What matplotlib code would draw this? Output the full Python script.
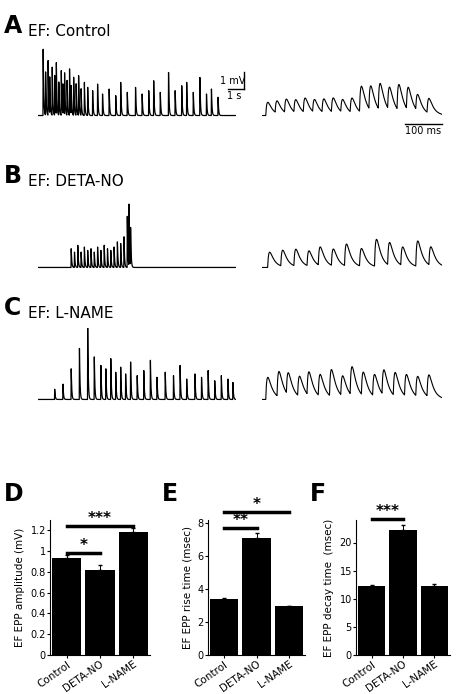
import numpy as np
import matplotlib.pyplot as plt

# ---- data ----
groups = ["Control", "DETA-NO", "L-NAME"]
amp_mean = [0.93, 0.82, 1.18]
amp_err = [0.03, 0.05, 0.04]
rise_mean = [3.4, 7.1, 2.95]
rise_err = [0.08, 0.3, 0.05]
decay_mean = [12.2, 22.3, 12.3]
decay_err = [0.3, 0.8, 0.25]

# spike trains: (time s, amplitude mV)
a_left_t = [0.3,0.45,0.6,0.7,0.85,1.0,1.1,1.25,1.4,1.5,1.6,1.75,1.9,2.0,2.15,2.3,2.45,2.6,2.8,3.0,3.3,3.6,3.9,4.3,4.7,5.0,5.4,5.9,6.3,6.7,7.0,7.4,7.9,8.3,8.7,9.0,9.4,9.8,10.2,10.5,10.9]
a_left_a = [4.0,2.6,3.3,2.2,2.9,2.4,3.1,2.0,2.7,1.8,2.5,2.1,2.8,1.7,2.3,1.9,2.4,1.6,2.0,1.7,1.5,1.9,1.3,1.6,1.2,2.0,1.4,1.7,1.3,1.5,2.1,1.4,2.6,1.5,1.8,2.0,1.4,2.3,1.3,1.6,1.1]
b_left_t = [2.0,2.2,2.4,2.6,2.8,3.0,3.2,3.4,3.6,3.8,4.0,4.2,4.4,4.6,4.8,5.0,5.2,5.4,5.5,5.6]
b_left_a = [1.1,0.9,1.3,0.9,1.2,1.0,1.1,0.9,1.2,1.0,1.3,1.1,1.0,1.2,1.5,1.4,1.8,3.0,3.6,2.2]
c_left_t = [1.0,1.5,2.0,2.5,3.0,3.4,3.8,4.1,4.4,4.7,5.0,5.3,5.6,6.0,6.4,6.8,7.2,7.7,8.2,8.6,9.0,9.5,9.9,10.3,10.7,11.1,11.5,11.8]
c_left_a = [0.6,0.9,1.8,3.0,4.3,2.5,2.0,1.8,2.4,1.6,1.9,1.5,2.2,1.4,1.7,2.3,1.3,1.6,1.4,2.0,1.2,1.5,1.3,1.7,1.1,1.4,1.2,1.0]
a_right_t = [10,35,60,85,110,135,160,185,210,235,260,285,310,335,360,385,410,440]
a_right_a = [0.8,0.75,0.85,0.8,0.9,0.8,0.85,0.9,0.8,0.9,1.6,1.5,1.65,1.4,1.6,1.4,1.0,0.9]
b_right_t = [15,50,85,120,150,185,220,260,300,335,370,410,445]
b_right_a = [0.9,0.95,1.0,0.9,1.1,1.0,1.3,1.05,1.6,1.35,1.1,1.5,1.1]
c_right_t = [10,40,65,95,120,150,180,210,235,265,295,320,350,380,410,440]
c_right_a = [1.3,1.5,1.3,1.2,1.4,1.3,1.6,1.2,1.7,1.4,1.3,1.5,1.4,1.3,1.2,1.3]

def trace(times, amps, t, tr, td):
    y = np.zeros_like(t)
    for s, a in zip(times, amps):
        d = t - s
        m = d > 0
        k = np.exp(-d[m] / td) - np.exp(-d[m] / tr)
        y[m] += a * k / k.max()
    return y

fig = plt.figure(figsize=(4.74, 6.94), dpi=100)
W, H = 474, 694
def ax_px(x0, y0, x1, y1):
    return fig.add_axes([x0 / W, 1 - y1 / H, (x1 - x0) / W, (y1 - y0) / H])

tl = np.arange(0, 12, 0.004)
tr_ = np.arange(0, 480, 0.5)
rows = [
    ("A", "EF: Control", a_left_t, a_left_a, a_right_t, a_right_a, 40, 46, 118),
    ("B", "EF: DETA-NO", b_left_t, b_left_a, b_right_t, b_right_a, 190, 196, 270),
    ("C", "EF: L-NAME", c_left_t, c_left_a, c_right_t, c_right_a, 322, 328, 402),
]
for lab, title, lt, la, rt, ra, ytop, ypk, ybase in rows:
    fig.text(4 / W, 1 - (ytop - 26) / H, lab, fontsize=17, fontweight="bold", va="top")
    fig.text(28 / W, 1 - (ytop - 16) / H, title, fontsize=11, va="top")
    ax = ax_px(38, ypk, 236, ybase)
    ax.plot(tl, trace(lt, la, tl, 0.005, 0.03), color="black", lw=0.9)
    ax.set_xlim(0, 12); ax.set_ylim(-0.15, 4.2); ax.axis("off")
    ax2 = ax_px(262, ypk, 442, ybase)
    ax2.plot(tr_, trace(rt, ra, tr_, 3, 12), color="black", lw=0.8)
    ax2.set_xlim(0, 480); ax2.set_ylim(-0.15, 4.2); ax2.axis("off")
    if lab == "A":
        ax.plot([11.5, 12.5], [1.6, 1.6], color="black", lw=1, clip_on=False)
        ax.plot([12.5, 12.5], [1.6, 2.6], color="black", lw=1, clip_on=False)
        ax.text(11.0, 2.1, "1 mV", fontsize=7, va="center", ha="left")
        ax.text(11.9, 1.5, "1 s", fontsize=7, va="top", ha="center")
        ax2.plot([380, 480], [-0.5, -0.5], color="black", lw=1, clip_on=False)
        ax2.text(430, -0.65, "100 ms", fontsize=7, va="top", ha="center")

bars = [
    ("D", amp_mean, amp_err, "EF EPP amplitude (mV)", (0, 1.3), [0, 0.2, 0.4, 0.6, 0.8, 1, 1.2],
     ["0", "0.2", "0.4", "0.6", "0.8", "1", "1.2"], 50, 150, [(0, 1, 0.98, "*"), (0, 2, 1.24, "***")]),
    ("E", rise_mean, rise_err, "EF EPP rise time (msec)", (0, 8.2), [0, 2, 4, 6, 8],
     ["0", "2", "4", "6", "8"], 208, 305, [(0, 1, 7.7, "**"), (0, 2, 8.7, "*")]),
    ("F", decay_mean, decay_err, "EF EPP decay time  (msec)", (0, 24), [0, 5, 10, 15, 20],
     ["0", "5", "10", "15", "20"], 356, 450, [(0, 1, 24.2, "***")]),
]
for lab, m, e, yl, ylim, yt, ytl, x0, x1, sig in bars:
    ax = ax_px(x0, 520, x1, 655)
    ax.bar(range(3), m, width=0.88, color="black", yerr=[[0]*3, e],
           error_kw=dict(ecolor="black", capsize=1.5, lw=0.7))
    ax.set_ylim(*ylim); ax.set_xlim(-0.5, 2.5)
    ax.set_yticks(yt); ax.set_yticklabels(ytl, fontsize=7)
    ax.set_xticks(range(3)); ax.set_xticklabels(groups, rotation=35, ha="right", fontsize=7.5, rotation_mode="anchor")
    ax.set_ylabel(yl, fontsize=7.5)
    for s in ["top", "right"]:
        ax.spines[s].set_visible(False)
    ax.tick_params(length=2, pad=1)
    for a, b, y, txt in sig:
        ax.plot([a, b], [y, y], color="black", lw=2.5, clip_on=False)
        ax.text((a + b) / 2, y, txt, ha="center", va="bottom", fontsize=11, fontweight="bold")
    fig.text((x0 - 46) / W, 1 - 482 / H, lab, fontsize=17, fontweight="bold", va="top")

fig.savefig("out.png", dpi=100)
